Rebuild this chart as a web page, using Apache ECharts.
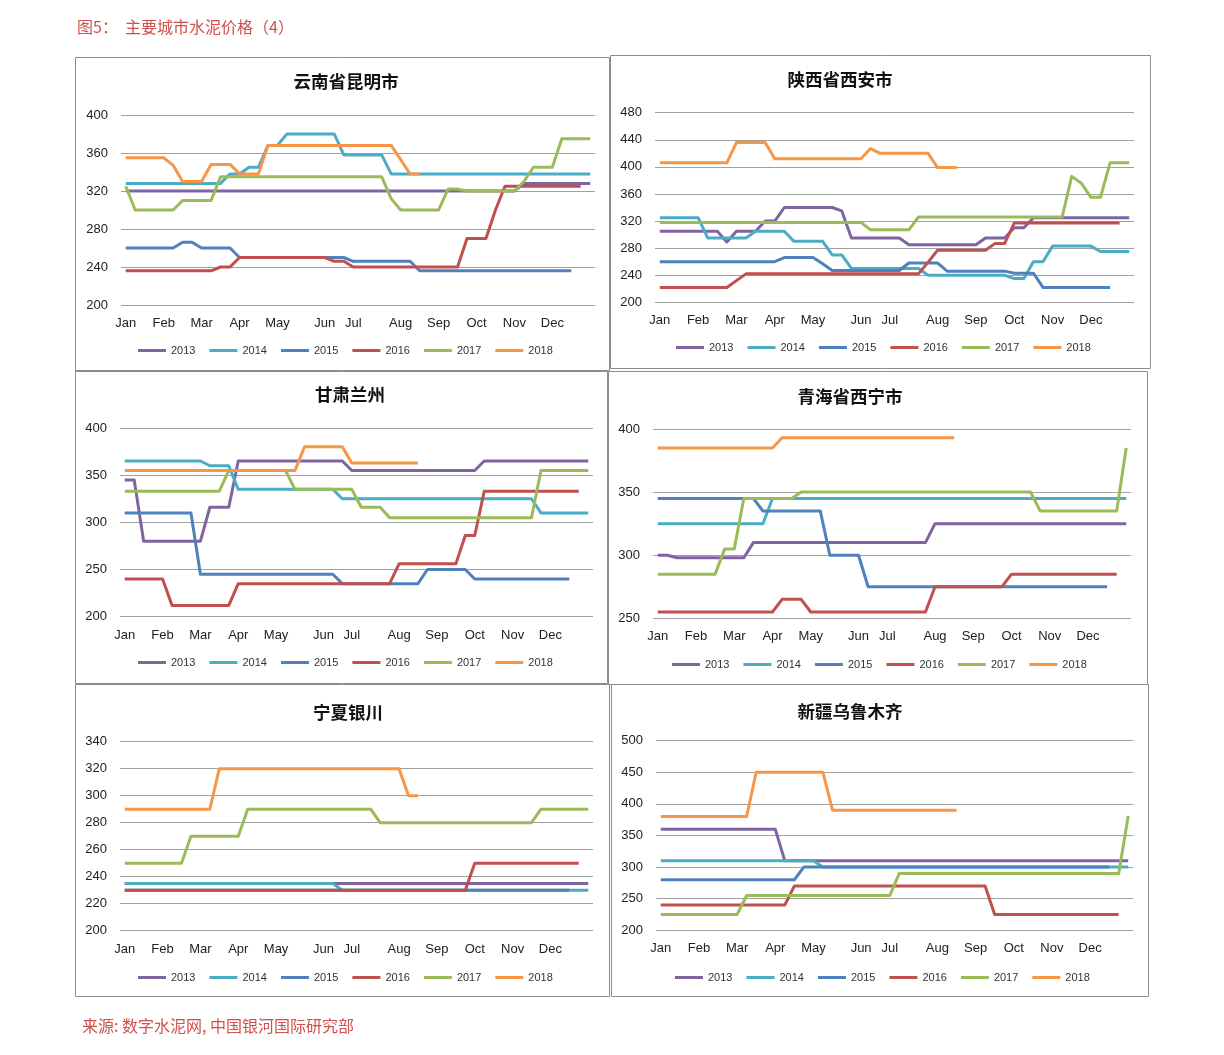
<!DOCTYPE html>
<html>
<head>
<meta charset="utf-8">
<script src="https://cdn.jsdelivr.net/npm/echarts@6/dist/echarts.min.js"></script>
<style>
  html, body { margin: 0; padding: 0; background: #fff; }
  #main { width: 1224px; height: 1055px; }
</style>
</head>
<body>
<div id="main"></div>
<script>
// weeks on the x axis, month labels shown at these week slots
var weeks = [1,2,3,4,5,6,7,8,9,10,11,12,13,14,15,16,17,18,19,20,21,22,23,24,25,
             26,27,28,29,30,31,32,33,34,35,36,37,38,39,40,41,42,43,44,45,46,47,48,49,50];
var monthNames = ['Jan','Feb','Mar','Apr','May','Jun','Jul','Aug','Sep','Oct','Nov','Dec'];
var monthWeeks = [0, 4, 8, 12, 16, 21, 24, 29, 33, 37, 41, 45];
var years = ['2013', '2014', '2015', '2016', '2017', '2018'];

// 云南省昆明市
var km2013 = [320,320,320,320,320,320,320,320,320,320, 320,320,320,320,320,320,320,320,320,320,
              320,320,320,320,320,320,320,320,320,320, 320,320,320,320,320,320,320,320,320,320,
              320,320,328,328,328,328,328,328,328,328];
var km2014 = [328,328,328,328,328,328,328,328,328,328, 328,338,338,345,345,368,368,380,380,380,
              380,380,380,358,358,358,358,358,338,338, 338,338,338,338,338,338,338,338,338,338,
              338,338,338,338,338,338,338,338,338,338];
var km2015 = [260,260,260,260,260,260,266,266,260,260, 260,260,250,250,250,250,250,250,250,250,
              250,250,250,250,246,246,246,246,246,246, 246,236,236,236,236,236,236,236,236,236,
              236,236,236,236,236,236,236,236];
var km2016 = [236,236,236,236,236,236,236,236,236,236, 240,240,250,250,250,250,250,250,250,250,
              250,250,246,246,240,240,240,240,240,240, 240,240,240,240,240,240,270,270,270,300,
              325,325,325,325,325,325,325,325,325];
var km2017 = [325,300,300,300,300,300,310,310,310,310, 335,335,335,335,335,335,335,335,335,335,
              335,335,335,335,335,335,335,335,312,300, 300,300,300,300,322,322,320,320,320,320,
              320,320,330,345,345,345,375,375,375,375];
var km2018 = [355,355,355,355,355,347,330,330,330,348, 348,348,338,338,338,368,368,368,368,368,
              368,368,368,368,368,368,368,368,368,353, 338,338];

// 陕西省西安市
var xa2013 = [305,305,305,305,305,305,305,289,305,305, 305,320,320,340,340,340,340,340,340,335,
              295,295,295,295,295,295,285,285,285,285, 285,285,285,285,295,295,295,310,310,325,
              325,325,325,325,325,325,325,325,325,325];
var xa2014 = [325,325,325,325,325,295,295,295,295,295, 305,305,305,305,290,290,290,290,270,270,
              250,250,250,250,250,250,250,250,240,240, 240,240,240,240,240,240,240,235,235,260,
              260,283,283,283,283,283,275,275,275,275];
var xa2015 = [260,260,260,260,260,260,260,260,260,260, 260,260,260,266,266,266,266,257,247,247,
              247,247,247,247,247,247,258,258,258,258, 246,246,246,246,246,246,246,243,243,243,
              222,222,222,222,222,222,222,222];
var xa2016 = [222,222,222,222,222,222,222,222,232,242, 242,242,242,242,242,242,242,242,242,242,
              242,242,242,242,242,242,242,242,259,277, 277,277,277,277,277,287,287,317,317,317,
              317,317,317,317,317,317,317,317,317];
var xa2017 = [318,318,318,318,318,318,318,318,318,318, 318,318,318,318,318,318,318,318,318,318,
              318,318,307,307,307,307,307,326,326,326, 326,326,326,326,326,326,326,326,326,326,
              326,326,326,386,376,355,355,406,406,406];
var xa2018 = [406,406,406,406,406,406,406,406,436,436, 436,436,412,412,412,412,412,412,412,412,
              412,412,427,420,420,420,420,420,420,399, 399,399];

// 甘肃兰州
var lz2013 = [345,345,280,280,280,280,280,280,280,316, 316,316,365,365,365,365,365,365,365,365,
              365,365,365,365,355,355,355,355,355,355, 355,355,355,355,355,355,355,355,365,365,
              365,365,365,365,365,365,365,365,365,365];
var lz2014 = [365,365,365,365,365,365,365,365,365,360, 360,360,335,335,335,335,335,335,335,335,
              335,335,335,325,325,325,325,325,325,325, 325,325,325,325,325,325,325,325,325,325,
              325,325,325,325,310,310,310,310,310,310];
var lz2015 = [310,310,310,310,310,310,310,310,245,245, 245,245,245,245,245,245,245,245,245,245,
              245,245,245,235,235,235,235,235,235,235, 235,235,250,250,250,250,250,240,240,240,
              240,240,240,240,240,240,240,240];
var lz2016 = [240,240,240,240,240,212,212,212,212,212, 212,212,235,235,235,235,235,235,235,235,
              235,235,235,235,235,235,235,235,235,256, 256,256,256,256,256,256,286,286,333,333,
              333,333,333,333,333,333,333,333,333];
var lz2017 = [333,333,333,333,333,333,333,333,333,333, 333,355,355,355,355,355,355,355,335,335,
              335,335,335,335,335,316,316,316,305,305, 305,305,305,305,305,305,305,305,305,305,
              305,305,305,305,355,355,355,355,355,355];
var lz2018 = [355,355,355,355,355,355,355,355,355,355, 355,355,355,355,355,355,355,355,355,380,
              380,380,380,380,363,363,363,363,363,363, 363,363];

// 青海省西宁市
var xn2013 = [300,300,298,298,298,298,298,298,298,298, 310,310,310,310,310,310,310,310,310,310,
              310,310,310,310,310,310,310,310,310,325, 325,325,325,325,325,325,325,325,325,325,
              325,325,325,325,325,325,325,325,325,325];
var xn2014 = [325,325,325,325,325,325,325,325,325,325, 325,325,345,345,345,345,345,345,345,345,
              345,345,345,345,345,345,345,345,345,345, 345,345,345,345,345,345,345,345,345,345,
              345,345,345,345,345,345,345,345,345,345];
var xn2015 = [345,345,345,345,345,345,345,345,345,345, 345,335,335,335,335,335,335,335,300,300,
              300,300,275,275,275,275,275,275,275,275, 275,275,275,275,275,275,275,275,275,275,
              275,275,275,275,275,275,275,275];
var xn2016 = [255,255,255,255,255,255,255,255,255,255, 255,255,255,265,265,265,255,255,255,255,
              255,255,255,255,255,255,255,255,255,275, 275,275,275,275,275,275,275,285,285,285,
              285,285,285,285,285,285,285,285,285];
var xn2017 = [285,285,285,285,285,285,285,305,305,345, 345,345,345,345,345,350,350,350,350,350,
              350,350,350,350,350,350,350,350,350,350, 350,350,350,350,350,350,350,350,350,350,
              335,335,335,335,335,335,335,335,335,385];
var xn2018 = [385,385,385,385,385,385,385,385,385,385, 385,385,385,393,393,393,393,393,393,393,
              393,393,393,393,393,393,393,393,393,393, 393,393];

// 宁夏银川
var yc2013 = [235,235,235,235,235,235,235,235,235,235, 235,235,235,235,235,235,235,235,235,235,
              235,235,235,235,235,235,235,235,235,235, 235,235,235,235,235,235,235,235,235,235,
              235,235,235,235,235,235,235,235,235,235];
var yc2014 = [235,235,235,235,235,235,235,235,235,235, 235,235,235,235,235,235,235,235,235,235,
              235,235,235,230,230,230,230,230,230,230, 230,230,230,230,230,230,230,230,230,230,
              230,230,230,230,230,230,230,230,230,230];
var yc2015 = [230,230,230,230,230,230,230,230,230,230, 230,230,230,230,230,230,230,230,230,230,
              230,230,230,230,230,230,230,230,230,230, 230,230,230,230,230,230,230,230,230,230,
              230,230,230,230,230,230,230,230];
var yc2016 = [230,230,230,230,230,230,230,230,230,230, 230,230,230,230,230,230,230,230,230,230,
              230,230,230,230,230,230,230,230,230,230, 230,230,230,230,230,230,230,250,250,250,
              250,250,250,250,250,250,250,250,250];
var yc2017 = [250,250,250,250,250,250,250,270,270,270, 270,270,270,290,290,290,290,290,290,290,
              290,290,290,290,290,290,290,280,280,280, 280,280,280,280,280,280,280,280,280,280,
              280,280,280,280,290,290,290,290,290,290];
var yc2018 = [290,290,290,290,290,290,290,290,290,290, 320,320,320,320,320,320,320,320,320,320,
              320,320,320,320,320,320,320,320,320,320, 300,300];

// 新疆乌鲁木齐
var wl2013 = [360,360,360,360,360,360,360,360,360,360, 360,360,360,310,310,310,310,310,310,310,
              310,310,310,310,310,310,310,310,310,310, 310,310,310,310,310,310,310,310,310,310,
              310,310,310,310,310,310,310,310,310,310];
var wl2014 = [310,310,310,310,310,310,310,310,310,310, 310,310,310,310,310,310,310,300,300,300,
              300,300,300,300,300,300,300,300,300,300, 300,300,300,300,300,300,300,300,300,300,
              300,300,300,300,300,300,300,300,300,300];
var wl2015 = [280,280,280,280,280,280,280,280,280,280, 280,280,280,280,280,300,300,300,300,300,
              300,300,300,300,300,300,300,300,300,300, 300,300,300,300,300,300,300,300,300,300,
              300,300,300,300,300,300,300,300];
var wl2016 = [240,240,240,240,240,240,240,240,240,240, 240,240,240,240,270,270,270,270,270,270,
              270,270,270,270,270,270,270,270,270,270, 270,270,270,270,270,225,225,225,225,225,
              225,225,225,225,225,225,225,225,225];
var wl2017 = [225,225,225,225,225,225,225,225,225,255, 255,255,255,255,255,255,255,255,255,255,
              255,255,255,255,255,290,290,290,290,290, 290,290,290,290,290,290,290,290,290,290,
              290,290,290,290,290,290,290,290,290,381];
var wl2018 = [380,380,380,380,380,380,380,380,380,380, 450,450,450,450,450,450,450,450,390,390,
              390,390,390,390,390,390,390,390,390,390, 390,390];

var colors = ['#8064A2', '#4BACC6', '#4F81BD', '#C0504D', '#9BBB59', '#F79646'];
var latin = '"Liberation Sans", Arial, sans-serif';
var cjk = '"Noto Sans CJK SC", sans-serif';

var panels = [
  { title: '云南省昆明市', min: 200, max: 400, step: 40,
    data: [km2013, km2014, km2015, km2016, km2017, km2018],
    grid: [121, 115, 474, 190], legend: [138, 351], head: [346, 81], box: [75, 57, 534, 313] },
  { title: '陕西省西安市', min: 200, max: 480, step: 40,
    data: [xa2013, xa2014, xa2015, xa2016, xa2017, xa2018],
    grid: [655, 112.7, 479, 189.6], legend: [676, 348], head: [840, 79], box: [610, 55, 540, 313] },
  { title: '甘肃兰州', min: 200, max: 400, step: 50,
    data: [lz2013, lz2014, lz2015, lz2016, lz2017, lz2018],
    grid: [120, 428, 473, 188.7], legend: [138, 663], head: [350, 394], box: [75, 371, 532, 312] },
  { title: '青海省西宁市', min: 250, max: 400, step: 50,
    data: [xn2013, xn2014, xn2015, xn2016, xn2017, xn2018],
    grid: [653, 429, 478, 189.3], legend: [672, 665], head: [850, 396], box: [608, 371, 539, 313] },
  { title: '宁夏银川', min: 200, max: 340, step: 20,
    data: [yc2013, yc2014, yc2015, yc2016, yc2017, yc2018],
    grid: [120, 741.7, 473, 189], legend: [138, 978], head: [348, 712], box: [75, 684, 534, 312] },
  { title: '新疆乌鲁木齐', min: 200, max: 500, step: 50,
    data: [wl2013, wl2014, wl2015, wl2016, wl2017, wl2018],
    grid: [656, 740.7, 477, 189.6], legend: [675, 978], head: [850, 711], box: [611, 684, 537, 312] }
];

var grids = [], xAxes = [], yAxes = [], series = [], legends = [];
var graphics = [
  { type: 'text', x: 77, y: 27, style: { text: '图5：', font: '16px ' + cjk, fill: '#D0504D',
    align: 'left', verticalAlign: 'middle', textAlign: 'left', textVerticalAlign: 'middle' } },
  { type: 'text', x: 125, y: 27, style: { text: '主要城市水泥价格（4）', font: '16px ' + cjk, fill: '#D0504D',
    align: 'left', verticalAlign: 'middle', textAlign: 'left', textVerticalAlign: 'middle' } },
  { type: 'text', x: 82, y: 1026, style: { text: '来源: 数字水泥网, 中国银河国际研究部', font: '16px ' + cjk, fill: '#D0504D',
    align: 'left', verticalAlign: 'middle', textAlign: 'left', textVerticalAlign: 'middle' } }
];

panels.forEach(function (p, k) {
  grids.push({ left: p.grid[0], top: p.grid[1], width: p.grid[2], height: p.grid[3] });
  xAxes.push({
    type: 'category', gridIndex: k, data: weeks, boundaryGap: true,
    axisLine: { show: false }, axisTick: { show: false }, splitLine: { show: false },
    axisLabel: {
      interval: function (i) { return monthWeeks.indexOf(i) >= 0; },
      formatter: function (v, i) { var m = monthWeeks.indexOf(i); return m >= 0 ? monthNames[m] : ''; },
      margin: 12, fontSize: 13, color: '#222', fontFamily: latin
    }
  });
  yAxes.push({
    type: 'value', gridIndex: k, min: p.min, max: p.max, interval: p.step,
    axisLine: { show: false }, axisTick: { show: false },
    splitLine: { lineStyle: { color: '#a0a0a0', width: 1 } },
    axisLabel: { margin: 13, fontSize: 13, color: '#222', fontFamily: latin }
  });
  p.data.forEach(function (d, j) {
    series.push({
      name: years[j], type: 'line', xAxisIndex: k, yAxisIndex: k, data: d,
      symbol: 'none', color: colors[j], lineStyle: { width: 3, join: 'round' }
    });
  });
  legends.push({
    left: p.legend[0], top: p.legend[1] - 6, padding: 0, data: years,
    icon: 'rect', itemWidth: 28, itemHeight: 3, itemGap: 14,
    textStyle: { fontSize: 11, color: '#333', fontFamily: latin }
  });
  graphics.push({ type: 'rect', shape: { x: p.box[0] + 0.5, y: p.box[1] + 0.5, width: p.box[2], height: p.box[3] },
    style: { fill: 'none', stroke: '#8c8c8c', lineWidth: 1 } });
  graphics.push({ type: 'text', x: p.head[0], y: p.head[1],
    style: { text: p.title, font: 'bold 17.5px ' + cjk, fill: '#111',
      align: 'center', verticalAlign: 'middle', textAlign: 'center', textVerticalAlign: 'middle' } });
});

var myChart = echarts.init(document.getElementById('main'));
myChart.setOption({
  animation: false,
  backgroundColor: '#fff',
  grid: grids,
  xAxis: xAxes,
  yAxis: yAxes,
  legend: legends,
  graphic: graphics,
  series: series
});
</script>
</body>
</html>
